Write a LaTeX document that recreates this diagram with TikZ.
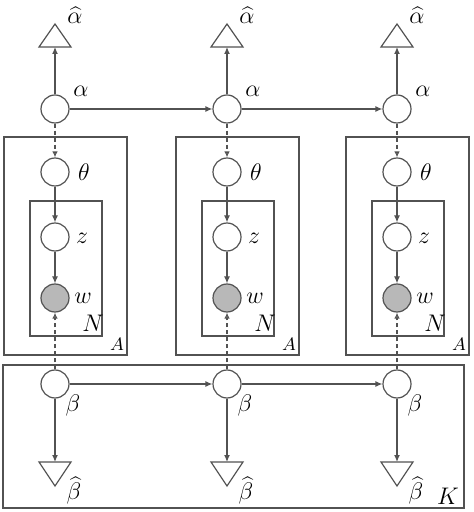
\documentclass[tikz,border=0pt]{standalone}
\usetikzlibrary{arrows.meta}
\begin{document}
\begin{tikzpicture}[x=0.5pt,y=-0.5pt,
  line width=0.6pt,
  ln/.style={draw=black!68},
  var/.style={circle,ln,fill=white,minimum size=14pt,inner sep=0pt},
  obs/.style={var,fill=black!28},
  plate/.style={ln},
  lab/.style={inner sep=0pt,font=\large},
  arr/.style={ln,-{Latex[length=3.5pt,width=3pt]}},
  darr/.style={ln,dash pattern=on 2pt off 1.5pt,-{Latex[open,length=3pt,width=2.8pt]}},
  tri/.style={ln,line join=miter}
]
\useasboundingbox (0,0) rectangle (474,512);
% plates
\draw[plate] (3,365) rectangle (464,508);
\node[lab] (K) at (448,496) {$K$};
\foreach \i/\x in {1/55,2/227,3/397}{
  \draw[plate] (\x-51,137) rectangle (\x+72,355);
  \draw[plate] (\x-25,201) rectangle (\x+47,336);
  \node[lab,font=\small] (A\i) at (\x+62,344) {$A$};
  \node[lab] (N\i) at (\x+38,323) {$N$};
  \node[var] (alpha\i) at (\x,109) {};
  \node[var] (theta\i) at (\x,172) {};
  \node[var] (z\i) at (\x,237) {};
  \node[obs] (w\i) at (\x,298) {};
  \node[var] (beta\i) at (\x,384) {};
  \coordinate (ah\i) at (\x,47);
  \coordinate (bh\i) at (\x,462);
  \draw[tri] (\x-16,47) -- (\x,24) -- (\x+16,47) -- cycle;
  \draw[tri] (\x-16,462) -- (\x,486) -- (\x+16,462) -- cycle;
  \node[lab] (la\i) at (\x+26,91) {$\alpha$};
  \node[lab] (lt\i) at (\x+29,172) {$\theta$};
  \node[lab] (lz\i) at (\x+27,238) {$z$};
  \node[lab] (lw\i) at (\x+28,298) {$w$};
  \node[lab] (lb\i) at (\x+18,405) {$\beta$};
  \node[lab] (lah\i) at (\x+20,15) {$\widehat{\alpha}$};
  \node[lab] (lbh\i) at (\x+19,491) {$\widehat{\beta}$};
  \draw[arr] (alpha\i) -- (ah\i);
  \draw[arr] (beta\i) -- (bh\i);
  \draw[darr] (alpha\i) -- (theta\i);
  \draw[arr] (theta\i) -- (z\i);
  \draw[arr] (z\i) -- (w\i);
  \draw[darr] (beta\i) -- (w\i);
}
\draw[arr] (alpha1) -- (alpha2);
\draw[arr] (alpha2) -- (alpha3);
\draw[arr] (beta1) -- (beta2);
\draw[arr] (beta2) -- (beta3);
\end{tikzpicture}
\end{document}
